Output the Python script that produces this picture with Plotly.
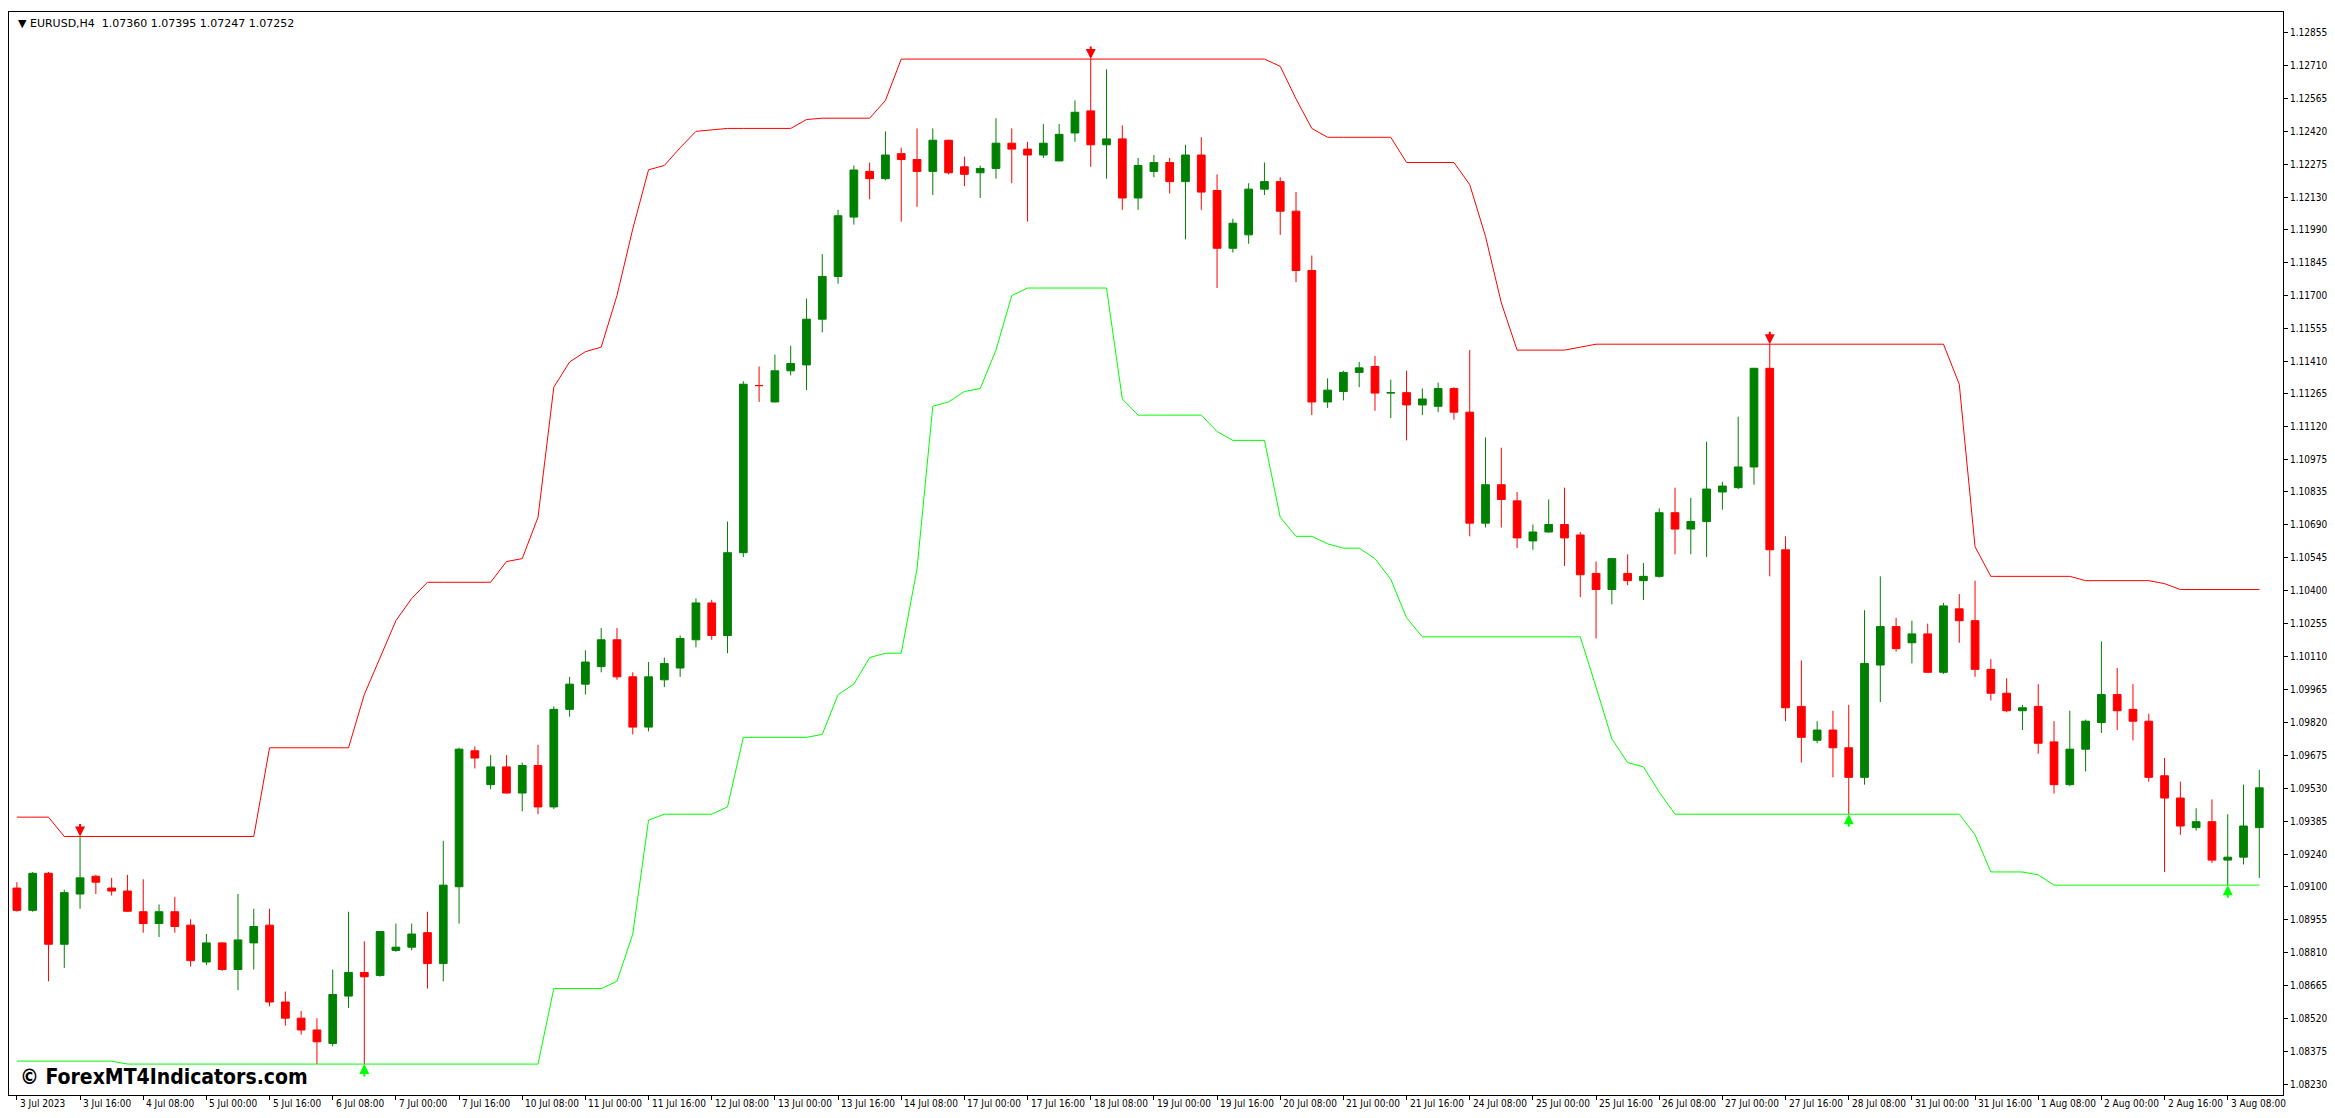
import plotly.graph_objects as go

# EURUSD H4, 3 Jul 2023 - 3 Aug 2023, bar index 0..142
opens = [1.09092, 1.08994, 1.09157, 1.08845, 1.09066, 1.09144, 1.09092, 1.09079, 1.08988, 1.08936,
         1.08988, 1.08929, 1.08767, 1.08851, 1.08734, 1.08851, 1.08929, 1.08591, 1.08520, 1.08468,
         1.08409, 1.08617, 1.08721, 1.08708, 1.08818, 1.08832, 1.08896, 1.08760, 1.09098, 1.09696,
         1.09547, 1.09625, 1.09510, 1.09631, 1.09449, 1.09878, 1.09989, 1.10066, 1.10184, 1.10021,
         1.09800, 1.10008, 1.10060, 1.10184, 1.10346, 1.10203, 1.10567, 1.11302, 1.11230, 1.11367,
         1.11393, 1.11594, 1.11782, 1.12043, 1.12244, 1.12212, 1.12322, 1.12296, 1.12244, 1.12381,
         1.12264, 1.12238, 1.12257, 1.12368, 1.12342, 1.12316, 1.12290, 1.12413, 1.12510, 1.12361,
         1.12387, 1.12127, 1.12244, 1.12283, 1.12199, 1.12316, 1.12160, 1.11906, 1.11965, 1.12166,
         1.12199, 1.12069, 1.11808, 1.11230, 1.11276, 1.11360, 1.11386, 1.11269, 1.11271, 1.11217,
         1.11211, 1.11289, 1.11185, 1.10697, 1.10866, 1.10795, 1.10619, 1.10658, 1.10691, 1.10645,
         1.10476, 1.10405, 1.10476, 1.10444, 1.10463, 1.10743, 1.10671, 1.10704, 1.10834, 1.10853,
         1.10944, 1.11378, 1.10580, 1.09891, 1.09742, 1.09787, 1.09709, 1.09579, 1.10073, 1.10242,
         1.10171, 1.10210, 1.10041, 1.10320, 1.10268, 1.10054, 1.09949, 1.09872, 1.09891, 1.09735,
         1.09547, 1.09703, 1.09820, 1.09943, 1.09878, 1.09826, 1.09586, 1.09488, 1.09358, 1.09384,
         1.09215, 1.09228, 1.09358]
highs = [1.09118, 1.09163, 1.09163, 1.09085, 1.09319, 1.09150, 1.09137, 1.09150, 1.09131, 1.09020,
         1.09053, 1.08955, 1.08890, 1.08853, 1.09066, 1.09001, 1.09001, 1.08637, 1.08552, 1.08520,
         1.08734, 1.08988, 1.08858, 1.08903, 1.08936, 1.08936, 1.08988, 1.09300, 1.09709, 1.09715,
         1.09677, 1.09677, 1.09644, 1.09722, 1.09891, 1.10021, 1.10138, 1.10236, 1.10236, 1.10041,
         1.10086, 1.10106, 1.10203, 1.10366, 1.10360, 1.10704, 1.11321, 1.11386, 1.11438, 1.11477,
         1.11685, 1.11880, 1.12075, 1.12270, 1.12283, 1.12420, 1.12348, 1.12433, 1.12433, 1.12383,
         1.12309, 1.12270, 1.12478, 1.12433, 1.12374, 1.12452, 1.12452, 1.12556, 1.12738, 1.12693,
         1.12446, 1.12303, 1.12316, 1.12303, 1.12361, 1.12394, 1.12231, 1.12036, 1.12192, 1.12283,
         1.12218, 1.12153, 1.11874, 1.11334, 1.11367, 1.11406, 1.11432, 1.11328, 1.11367, 1.11289,
         1.11315, 1.11295, 1.11458, 1.11074, 1.11029, 1.10834, 1.10691, 1.10801, 1.10853, 1.10658,
         1.10528, 1.10541, 1.10560, 1.10522, 1.10762, 1.10853, 1.10808, 1.11055, 1.10879, 1.11165,
         1.11380, 1.11484, 1.10639, 1.10093, 1.09826, 1.09872, 1.09898, 1.10314, 1.10463, 1.10281,
         1.10268, 1.10255, 1.10346, 1.10385, 1.10444, 1.10099, 1.10015, 1.09898, 1.09989, 1.09826,
         1.09872, 1.09833, 1.10177, 1.10060, 1.09989, 1.09859, 1.09664, 1.09560, 1.09443, 1.09482,
         1.09417, 1.09547, 1.09612]
lows = [1.08988, 1.08988, 1.08682, 1.08741, 1.09001, 1.09066, 1.09059, 1.08988, 1.08896, 1.08877,
        1.08896, 1.08747, 1.08754, 1.08728, 1.08643, 1.08734, 1.08572, 1.08487, 1.08448, 1.08318,
        1.08396, 1.08565, 1.08318, 1.08702, 1.08812, 1.08818, 1.08650, 1.08682, 1.08936, 1.09618,
        1.09527, 1.09508, 1.09430, 1.09417, 1.09440, 1.09846, 1.09943, 1.10041, 1.10008, 1.09768,
        1.09781, 1.09976, 1.10021, 1.10151, 1.10184, 1.10125, 1.10548, 1.11230, 1.11228, 1.11347,
        1.11282, 1.11536, 1.11750, 1.12010, 1.12121, 1.12205, 1.12023, 1.12088, 1.12140, 1.12231,
        1.12179, 1.12127, 1.12212, 1.12192, 1.12023, 1.12303, 1.12288, 1.12374, 1.12264, 1.12212,
        1.12075, 1.12075, 1.12218, 1.12147, 1.11945, 1.12075, 1.11731, 1.11887, 1.11926, 1.12140,
        1.11965, 1.11757, 1.11172, 1.11204, 1.11237, 1.11295, 1.11191, 1.11159, 1.11061, 1.11172,
        1.11185, 1.11152, 1.10639, 1.10678, 1.10678, 1.10587, 1.10580, 1.10656, 1.10509, 1.10372,
        1.10190, 1.10340, 1.10424, 1.10359, 1.10457, 1.10560, 1.10560, 1.10548, 1.10756, 1.10847,
        1.10866, 1.10463, 1.09826, 1.09644, 1.09729, 1.09579, 1.09417, 1.09547, 1.09910, 1.10132,
        1.10080, 1.10039, 1.10034, 1.10171, 1.10021, 1.09917, 1.09865, 1.09787, 1.09683, 1.09508,
        1.09540, 1.09605, 1.09774, 1.09787, 1.09742, 1.09560, 1.09163, 1.09326, 1.09345, 1.09202,
        1.09105, 1.09196, 1.09137]
closes = [1.08994, 1.09157, 1.08845, 1.09072, 1.09137, 1.09118, 1.09079, 1.08990, 1.08936, 1.08988,
          1.08923, 1.08773, 1.08851, 1.08734, 1.08864, 1.08923, 1.08591, 1.08520, 1.08468, 1.08416,
          1.08624, 1.08721, 1.08702, 1.08901, 1.08832, 1.08890, 1.08760, 1.09105, 1.09703, 1.09664,
          1.09625, 1.09510, 1.09631, 1.09449, 1.09878, 1.09989, 1.10086, 1.10184, 1.10021, 1.09800,
          1.10021, 1.10080, 1.10190, 1.10346, 1.10203, 1.10567, 1.11308, 1.11302, 1.11367, 1.11399,
          1.11594, 1.11782, 1.12049, 1.12250, 1.12212, 1.12316, 1.12296, 1.12244, 1.12381, 1.12238,
          1.12231, 1.12257, 1.12368, 1.12342, 1.12316, 1.12368, 1.12407, 1.12504, 1.12361, 1.12387,
          1.12127, 1.12270, 1.12283, 1.12199, 1.12316, 1.12153, 1.11906, 1.12016, 1.12166, 1.12199,
          1.12069, 1.11808, 1.11230, 1.11282, 1.11360, 1.11380, 1.11269, 1.11271, 1.11217, 1.11243,
          1.11289, 1.11185, 1.10697, 1.10866, 1.10801, 1.10632, 1.10658, 1.10691, 1.10632, 1.10470,
          1.10405, 1.10541, 1.10444, 1.10463, 1.10743, 1.10671, 1.10704, 1.10847, 1.10860, 1.10944,
          1.11378, 1.10580, 1.09885, 1.09755, 1.09787, 1.09709, 1.09579, 1.10080, 1.10242, 1.10145,
          1.10210, 1.10041, 1.10333, 1.10268, 1.10054, 1.09949, 1.09872, 1.09885, 1.09729, 1.09547,
          1.09703, 1.09826, 1.09943, 1.09872, 1.09826, 1.09579, 1.09488, 1.09365, 1.09384, 1.09215,
          1.09228, 1.09365, 1.09533]

# channel indicator lines
upper = [1.09404, 1.09404, 1.09404, 1.09319, 1.09319, 1.09319, 1.09319, 1.09319, 1.09319, 1.09319,
         1.09319, 1.09319, 1.09319, 1.09319, 1.09319, 1.09319, 1.09709, 1.09709, 1.09709, 1.09709,
         1.09709, 1.09709, 1.09943, 1.10106, 1.10268, 1.10366, 1.10437, 1.10437, 1.10437, 1.10437,
         1.10437, 1.10528, 1.10541, 1.10723, 1.11295, 1.11406, 1.11451, 1.11471, 1.11698, 1.11991,
         1.12251, 1.12270, 1.12348, 1.12420, 1.12426, 1.12433, 1.12433, 1.12433, 1.12433, 1.12433,
         1.12472, 1.12478, 1.12478, 1.12478, 1.12478, 1.12556, 1.12738, 1.12738, 1.12738, 1.12738,
         1.12738, 1.12738, 1.12738, 1.12738, 1.12738, 1.12738, 1.12738, 1.12738, 1.12738, 1.12738,
         1.12738, 1.12738, 1.12738, 1.12738, 1.12738, 1.12738, 1.12738, 1.12738, 1.12738, 1.12738,
         1.12706, 1.12563, 1.12433, 1.12394, 1.12394, 1.12394, 1.12394, 1.12394, 1.12283, 1.12283,
         1.12283, 1.12283, 1.12186, 1.11958, 1.11666, 1.11458, 1.11458, 1.11458, 1.11458, 1.11471,
         1.11484, 1.11484, 1.11484, 1.11484, 1.11484, 1.11484, 1.11484, 1.11484, 1.11484, 1.11484,
         1.11484, 1.11484, 1.11484, 1.11484, 1.11484, 1.11484, 1.11484, 1.11484, 1.11484, 1.11484,
         1.11484, 1.11484, 1.11484, 1.11308, 1.10593, 1.10463, 1.10463, 1.10463, 1.10463, 1.10463,
         1.10463, 1.10444, 1.10444, 1.10444, 1.10444, 1.10444, 1.10431, 1.10405, 1.10405, 1.10405,
         1.10405, 1.10405, 1.10405]
lower = [1.08331, 1.08331, 1.08331, 1.08331, 1.08331, 1.08331, 1.08331, 1.08318, 1.08318, 1.08318,
         1.08318, 1.08318, 1.08318, 1.08318, 1.08318, 1.08318, 1.08318, 1.08318, 1.08318, 1.08318,
         1.08318, 1.08318, 1.08318, 1.08318, 1.08318, 1.08318, 1.08318, 1.08318, 1.08318, 1.08318,
         1.08318, 1.08318, 1.08318, 1.08318, 1.08650, 1.08650, 1.08650, 1.08650, 1.08682, 1.08890,
         1.09391, 1.09417, 1.09417, 1.09417, 1.09417, 1.09449, 1.09755, 1.09755, 1.09755, 1.09755,
         1.09755, 1.09768, 1.09943, 1.09989, 1.10106, 1.10125, 1.10125, 1.10496, 1.11211, 1.11230,
         1.11276, 1.11289, 1.11458, 1.11698, 1.11731, 1.11731, 1.11731, 1.11731, 1.11731, 1.11731,
         1.11243, 1.11172, 1.11172, 1.11172, 1.11172, 1.11172, 1.11100, 1.11061, 1.11061, 1.11061,
         1.10723, 1.10639, 1.10639, 1.10606, 1.10587, 1.10587, 1.10541, 1.10450, 1.10281, 1.10197,
         1.10197, 1.10197, 1.10197, 1.10197, 1.10197, 1.10197, 1.10197, 1.10197, 1.10197, 1.10197,
         1.09976, 1.09748, 1.09644, 1.09625, 1.09514, 1.09417, 1.09417, 1.09417, 1.09417, 1.09417,
         1.09417, 1.09417, 1.09417, 1.09417, 1.09417, 1.09417, 1.09417, 1.09417, 1.09417, 1.09417,
         1.09417, 1.09417, 1.09417, 1.09417, 1.09326, 1.09163, 1.09163, 1.09163, 1.09150, 1.09105,
         1.09105, 1.09105, 1.09105, 1.09105, 1.09105, 1.09105, 1.09105, 1.09105, 1.09105, 1.09105,
         1.09105, 1.09105, 1.09105]

sell_bars = [4, 68, 111]
buy_bars = [22, 116, 140]

time_labels = ["3 Jul 2023", "3 Jul 16:00", "4 Jul 08:00", "5 Jul 00:00", "5 Jul 16:00", "6 Jul 08:00",
               "7 Jul 00:00", "7 Jul 16:00", "10 Jul 08:00", "11 Jul 00:00", "11 Jul 16:00", "12 Jul 08:00",
               "13 Jul 00:00", "13 Jul 16:00", "14 Jul 08:00", "17 Jul 00:00", "17 Jul 16:00", "18 Jul 08:00",
               "19 Jul 00:00", "19 Jul 16:00", "20 Jul 08:00", "21 Jul 00:00", "21 Jul 16:00", "24 Jul 08:00",
               "25 Jul 00:00", "25 Jul 16:00", "26 Jul 08:00", "27 Jul 00:00", "27 Jul 16:00", "28 Jul 08:00",
               "31 Jul 00:00", "31 Jul 16:00", "1 Aug 08:00", "2 Aug 00:00", "2 Aug 16:00", "3 Aug 08:00"]
label_bars = [4 * i for i in range(len(time_labels))]

price_ticks = [1.12855, 1.12710, 1.12565, 1.12420, 1.12275, 1.12130, 1.11990, 1.11845, 1.11700,
               1.11555, 1.11410, 1.11265, 1.11120, 1.10975, 1.10835, 1.10690, 1.10545, 1.10400,
               1.10255, 1.10110, 1.09965, 1.09820, 1.09675, 1.09530, 1.09385, 1.09240, 1.09100,
               1.08955, 1.08810, 1.08665, 1.08520, 1.08375, 1.08230]

bars = list(range(len(opens)))

fig = go.Figure()
fig.add_trace(go.Candlestick(
    x=bars, open=opens, high=highs, low=lows, close=closes,
    increasing=dict(line=dict(color="#008000", width=1), fillcolor="#008000"),
    decreasing=dict(line=dict(color="#ff0000", width=1), fillcolor="#ff0000"),
    whiskerwidth=0, hoverinfo="skip", showlegend=False))
fig.add_trace(go.Scatter(x=bars, y=upper, mode="lines", line=dict(color="#ff0000", width=1),
                         showlegend=False, hoverinfo="skip"))
fig.add_trace(go.Scatter(x=bars, y=lower, mode="lines", line=dict(color="#00ff00", width=1),
                         showlegend=False, hoverinfo="skip"))

annotations = []
for b in sell_bars:
    annotations.append(dict(x=b, y=upper[b], xref="x", yref="y", text="", showarrow=True,
                            arrowhead=2, arrowsize=1, arrowwidth=2, arrowcolor="#ff0000",
                            ax=0, ay=-14))
for b in buy_bars:
    annotations.append(dict(x=b, y=lower[b], xref="x", yref="y", text="", showarrow=True,
                            arrowhead=2, arrowsize=1, arrowwidth=2, arrowcolor="#00ff00",
                            ax=0, ay=14))
for b, lab in zip(label_bars, time_labels):
    annotations.append(dict(x=b, y=0, xref="x", yref="paper", text=lab, showarrow=False,
                            xanchor="left", yanchor="top", xshift=1, yshift=-1,
                            font=dict(family="DejaVu Sans Condensed", size=10, color="black")))
annotations.append(dict(x=0.003, y=0.997, xref="paper", yref="paper", xanchor="left", yanchor="top",
                        text="\u25bc EURUSD,H4  1.07360 1.07395 1.07247 1.07252", showarrow=False,
                        font=dict(family="DejaVu Sans", size=11, color="black")))
annotations.append(dict(x=0.004, y=0.004, xref="paper", yref="paper", xanchor="left", yanchor="bottom",
                        text="<b>\u00a9 ForexMT4Indicators.com</b>", showarrow=False,
                        font=dict(family="DejaVu Sans Condensed", size=21, color="black")))

fig.update_layout(
    margin=dict(l=0, r=31, t=4, b=15),
    paper_bgcolor="white", plot_bgcolor="white",
    annotations=annotations,
    xaxis=dict(range=[-0.5, 143.5], rangeslider=dict(visible=False), showgrid=False, zeroline=False,
               tickmode="array", tickvals=label_bars, showticklabels=False, ticks="outside",
               ticklen=4, tickcolor="black", showline=True, linecolor="black", linewidth=1,
               mirror=True),
    yaxis=dict(range=[1.08182, 1.12945], side="right", showgrid=False, zeroline=False,
               tickmode="array", tickvals=price_ticks,
               ticktext=["%.5f" % v for v in price_ticks],
               ticks="outside", ticklen=4, tickcolor="black",
               tickfont=dict(family="DejaVu Sans Condensed", size=10, color="black"),
               showline=True, linecolor="black", linewidth=1, mirror=True),
)

fig.write_html("out.html", default_width="100%", default_height="100%")
